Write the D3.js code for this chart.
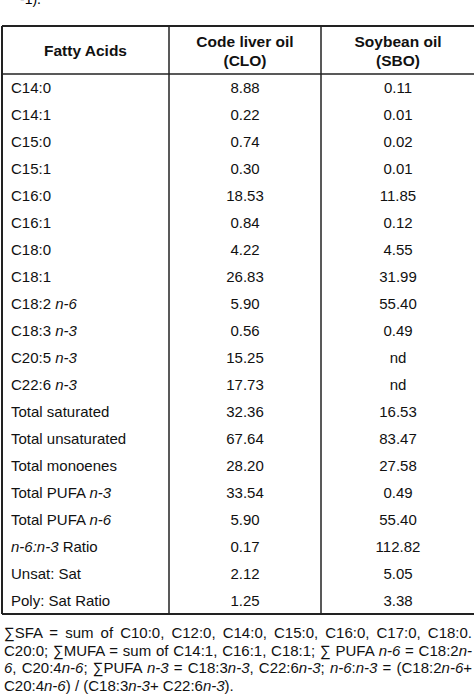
<!doctype html>
<html>
<head>
<meta charset="UTF-8">
<script src="https://d3js.org/d3.v7.min.js"></script>
<style>
  body{margin:0;background:#fff;font-family:"Liberation Sans",Arial,sans-serif;}
  #note{position:absolute;left:4px;top:624px;width:468px;font-size:15px;line-height:17.6px;text-align:justify;color:#111;}
</style>
</head>
<body>
<svg id="tbl" width="474" height="625"></svg>
<div id="note">∑SFA = sum of C10:0, C12:0, C14:0, C15:0, C16:0, C17:0, C18:0. C20:0; ∑MUFA = sum of C14:1, C16:1, C18:1; ∑ PUFA <i>n-6</i> = C18:2<i>n-6</i>, C20:4<i>n-6</i>; ∑PUFA <i>n-3</i> = C18:3<i>n-3</i>, C22:6<i>n-3</i>; <i>n-6</i>:<i>n-3</i> = (C18:2<i>n-6</i>+ C20:4<i>n-6</i>) / (C18:3<i>n-3</i>+ C22:6<i>n-3</i>).</div>
<script>
// row labels: [plain, italic, plain]
var labels = [
  ["C14:0"],["C14:1"],["C15:0"],["C15:1"],["C16:0"],["C16:1"],["C18:0"],["C18:1"],
  ["C18:2 ","n-6"],["C18:3 ","n-3"],["C20:5 ","n-3"],["C22:6 ","n-3"],
  ["Total saturated"],["Total unsaturated"],["Total monoenes"],
  ["Total PUFA ","n-3"],["Total PUFA ","n-6"],["","n-6:n-3"," Ratio"],
  ["Unsat: Sat"],["Poly:  Sat Ratio"]
];
var clo = ["8.88","0.22","0.74","0.30","18.53","0.84","4.22","26.83","5.90","0.56","15.25","17.73",
           "32.36","67.64","28.20","33.54","5.90","0.17","2.12","1.25"];
var sbo = ["0.11","0.01","0.02","0.01","11.85","0.12","4.55","31.99","55.40","0.49","nd","nd",
           "16.53","83.47","27.58","0.49","55.40","112.82","5.05","3.38"];
var headers = [["Fatty Acids"],["Code liver oil","(CLO)"],["Soybean oil","(SBO)"]];

var svg = d3.select("#tbl");
var left = 2, right = 475, tTop = 26, headH = 48, rowH = 27;
var colX = [left, 169, 321, right];

var y = d3.scaleBand().domain(d3.range(labels.length))
  .range([tTop + headH, tTop + headH + rowH * labels.length]);
var bottom = tTop + headH + rowH * labels.length;

svg.append("text").attr("x", 20).attr("y", 4).attr("font-size", 14).text("-1).");

// header
headers.forEach(function(h, i){
  var cx = (colX[i] + colX[i+1]) / 2;
  var t = svg.append("text").attr("text-anchor", "middle").attr("font-weight", "bold")
    .attr("font-size", 15.5).attr("fill", "#111");
  if (h.length === 1) {
    t.attr("x", cx).attr("y", tTop + headH/2 + 5.5).text(h[0]);
  } else {
    t.append("tspan").attr("x", cx).attr("y", tTop + 21).text(h[0]);
    t.append("tspan").attr("x", cx).attr("y", tTop + 40).text(h[1]);
  }
});

// body
labels.forEach(function(parts, i){
  var t = svg.append("text").attr("x", colX[0] + 9).attr("y", y(i) + rowH/2 + 5.5)
    .attr("font-size", 15).attr("fill", "#111");
  parts.forEach(function(p, k){
    if (p) t.append("tspan").attr("font-style", k === 1 ? "italic" : null).text(p);
  });
});
svg.selectAll("text.clo").data(clo).enter().append("text").attr("class", "clo")
  .attr("x", (colX[1] + colX[2]) / 2).attr("y", function(d,i){ return y(i) + rowH/2 + 5.5; })
  .attr("text-anchor", "middle").attr("font-size", 15).attr("fill", "#111").text(function(d){ return d; });
svg.selectAll("text.sbo").data(sbo).enter().append("text").attr("class", "sbo")
  .attr("x", (colX[2] + colX[3]) / 2).attr("y", function(d,i){ return y(i) + rowH/2 + 5.5; })
  .attr("text-anchor", "middle").attr("font-size", 15).attr("fill", "#111").text(function(d){ return d; });

// lines
var ln = function(x1, y1, x2, y2, w){
  svg.append("line").attr("x1", x1).attr("y1", y1).attr("x2", x2).attr("y2", y2)
    .attr("stroke", "#222").attr("stroke-width", w);
};
ln(left, tTop, right, tTop, 2);
ln(left, tTop + headH, right, tTop + headH, 1.5);
ln(left, bottom, right, bottom, 2);
colX.forEach(function(x, i){ ln(x, tTop, x, bottom, i === 0 ? 2 : 1.5); });
</script>
</body>
</html>
